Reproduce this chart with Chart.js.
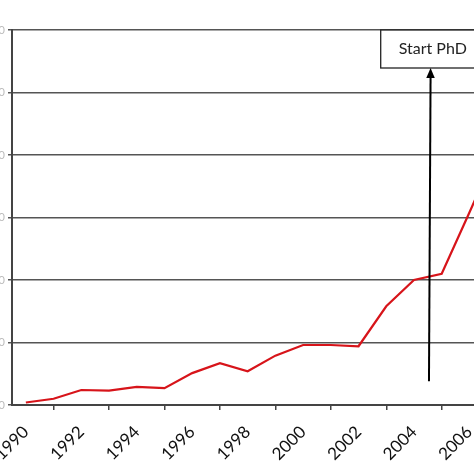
<!DOCTYPE html>
<html>
<head>
<meta charset="utf-8">
<script src="https://cdn.jsdelivr.net/npm/chart.js@4/dist/chart.umd.min.js"></script>
<style>
  html, body { margin: 0; padding: 0; background: #fff; overflow: hidden; }
  #wrap { position: relative; width: 474px; height: 474px; overflow: hidden; }
  #chart { position: absolute; left: -40px; top: 0; }
</style>
</head>
<body>
<div id="wrap"><canvas id="chart" width="560" height="474"></canvas></div>
<script>
// years on the x axis
var years = ['1990', '1991', '1992', '1993', '1994', '1995', '1996', '1997', '1998',
             '1999', '2000', '2001', '2002', '2003', '2004', '2005', '2006', '2007'];
// yearly count
var counts = [2, 5, 12, 11.5, 14.5, 13.5, 25.5, 33.5, 27, 39.5, 48, 48, 47, 79, 100, 105, 154, 204];
// y tick labels
var yTicks = [0, 50, 100, 150, 200, 250, 300];

// annotation: where the PhD started (in category units) and its label
var phdLabel = 'Start PhD';
var phdAt = 14.57;

// draws the "Start PhD" box and the arrow pointing up to it
var phdPlugin = {
  id: 'phdNote',
  afterDraw: function(chart) {
    var ctx = chart.ctx;
    var xs = chart.scales.x, ys = chart.scales.y;
    var ax = xs.getPixelForValue(phdAt);
    var top = chart.chartArea.top;
    var boxLeft = xs.getPixelForValue(12.8);
    var boxBottom = ys.getPixelForValue(269.6);
    var arrowBottom = ys.getPixelForValue(19);

    ctx.save();
    // box
    ctx.fillStyle = '#fff';
    ctx.fillRect(boxLeft, top, chart.width - boxLeft + 20, boxBottom - top);
    ctx.strokeStyle = '#222';
    ctx.lineWidth = 1.3;
    ctx.strokeRect(boxLeft, top, chart.width - boxLeft + 20, boxBottom - top);
    // text
    ctx.fillStyle = '#222';
    ctx.font = '16px Lato';
    ctx.textAlign = 'center';
    ctx.textBaseline = 'middle';
    ctx.fillText(phdLabel, ax + 3, (top + boxBottom) / 2);
    // arrow shaft
    ctx.strokeStyle = '#000';
    ctx.lineWidth = 2;
    ctx.beginPath();
    ctx.moveTo(ax - 0.8, arrowBottom);
    ctx.lineTo(ax + 0.8, boxBottom + 8);
    ctx.stroke();
    // arrow head
    ctx.fillStyle = '#000';
    ctx.beginPath();
    ctx.moveTo(ax + 0.8, boxBottom);
    ctx.lineTo(ax - 3.5, boxBottom + 10);
    ctx.lineTo(ax + 5, boxBottom + 10);
    ctx.closePath();
    ctx.fill();
    ctx.restore();
  }
};

var ctx = document.getElementById('chart').getContext('2d');
var chart = new Chart(ctx, {
  type: 'line',
  data: {
    labels: years,
    datasets: [{
      label: 'Count',
      data: counts,
      borderColor: '#d7141a',
      borderWidth: 2.2,
      pointRadius: 0,
      tension: 0,
      fill: false
    }]
  },
  options: {
    responsive: false,
    animation: false,
    layout: { padding: { top: 30, right: 9, left: 0, bottom: 0 } },
    plugins: {
      legend: { display: false },
      tooltip: { enabled: false }
    },
    scales: {
      x: {
        type: 'category',
        offset: true,
        grid: { offset: true, drawOnChartArea: false, drawTicks: true, tickLength: 5, color: '#444', lineWidth: 1.5 },
        border: { color: '#444', width: 2 },
        ticks: {
          autoSkip: false,
          minRotation: 45,
          maxRotation: 45,
          padding: 12,
          color: '#111',
          font: { family: 'Lato', size: 17 },
          callback: function(val, i) { return i % 2 === 0 ? years[i] : null; }
        },
        afterFit: function(scale) { scale.height = 69; }
      },
      y: {
        min: 0,
        max: 300,
        afterBuildTicks: function(scale) {
          scale.ticks = yTicks.map(function(v) { return { value: v }; });
        },
        grid: { color: '#555', lineWidth: 1.5, tickLength: 4 },
        border: { color: '#444', width: 2 },
        ticks: { color: '#bbb', font: { family: 'Lato', size: 11 } },
        afterFit: function(scale) { scale.width = 52; }
      }
    }
  },
  plugins: [phdPlugin]
});
</script>
</body>
</html>
